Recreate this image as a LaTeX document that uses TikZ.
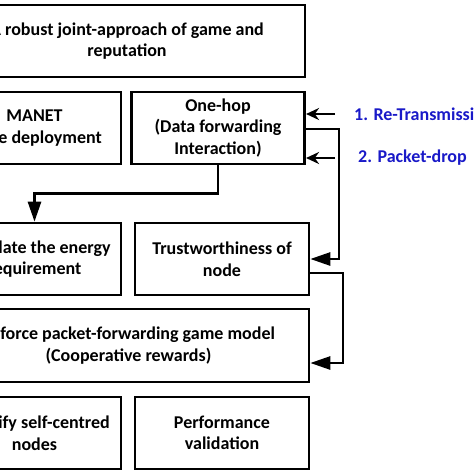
\documentclass[tikz,border=0pt]{standalone}
\usepackage{fontspec}
\setmainfont{Carlito}
\usetikzlibrary{arrows.meta}
\definecolor{labelblue}{RGB}{25,25,200}

\begin{document}
\begin{tikzpicture}[x=1pt, y=-1pt,
	box/.style={draw, line width=2.6pt, align=center, inner sep=0pt, minimum height=72pt,
		font=\fontsize{18}{21.5}\selectfont\bfseries},
	lbl/.style={inner sep=0pt, anchor=west, text=labelblue, font=\fontsize{18}{21.5}\selectfont\bfseries},
	tri/.style={-{Triangle[length=20pt,width=13pt]}, line width=2.6pt},
	stl/.style={-{Stealth[length=13pt,width=12pt]}, line width=2.6pt}]
\useasboundingbox (0,0) rectangle (474,474);
\clip (0,0) rectangle (474,474);

% boxes
\node[box, minimum width=356pt] (approach) at (127,41) {A robust joint-approach of game and\\reputation};
\node[box, minimum width=173pt] (manet) at (34.5,128) {MANET\\Node deployment};
\node[box, minimum width=173.5pt] (onehop) at (218,128) {One-hop\\(Data forwarding\\Interaction)};
\node[box, minimum width=173pt] (energy) at (34.5,259) {Calculate the energy\\requirement};
\node[box, minimum width=174pt] (trust) at (222,259) {Trustworthiness of\\node};
\node[box, minimum width=361pt, minimum height=73pt] (game) at (128.5,345.5) {Enforce packet-forwarding game model\\(Cooperative rewards)};
\node[box, minimum width=173pt] (selfish) at (34.5,433) {Identify self-centred\\nodes};
\node[box, minimum width=174pt] (perf) at (222,433) {Performance\\validation};

% side labels
\node[lbl] (retx) at (354,114) {1. Re-Transmission};
\node[lbl] (drop) at (358,158) {2. Packet-drop};

% connectors
\draw[tri] (onehop.south) -- ++(0,28) -| (energy.north);
\draw[tri] ([yshift=-1pt]onehop.east) -- ++(33,0) |- (trust.east);
\draw[tri] ([yshift=-14pt]trust.east) -- ++(32.5,0) |- ([yshift=-17.5pt]game.east);
\draw[stl] ([xshift=-19pt]retx.west) -- (retx.west -| onehop.east);
\draw[stl] ([xshift=-23pt]drop.west) -- (drop.west -| onehop.east);

\end{tikzpicture}
\end{document}
